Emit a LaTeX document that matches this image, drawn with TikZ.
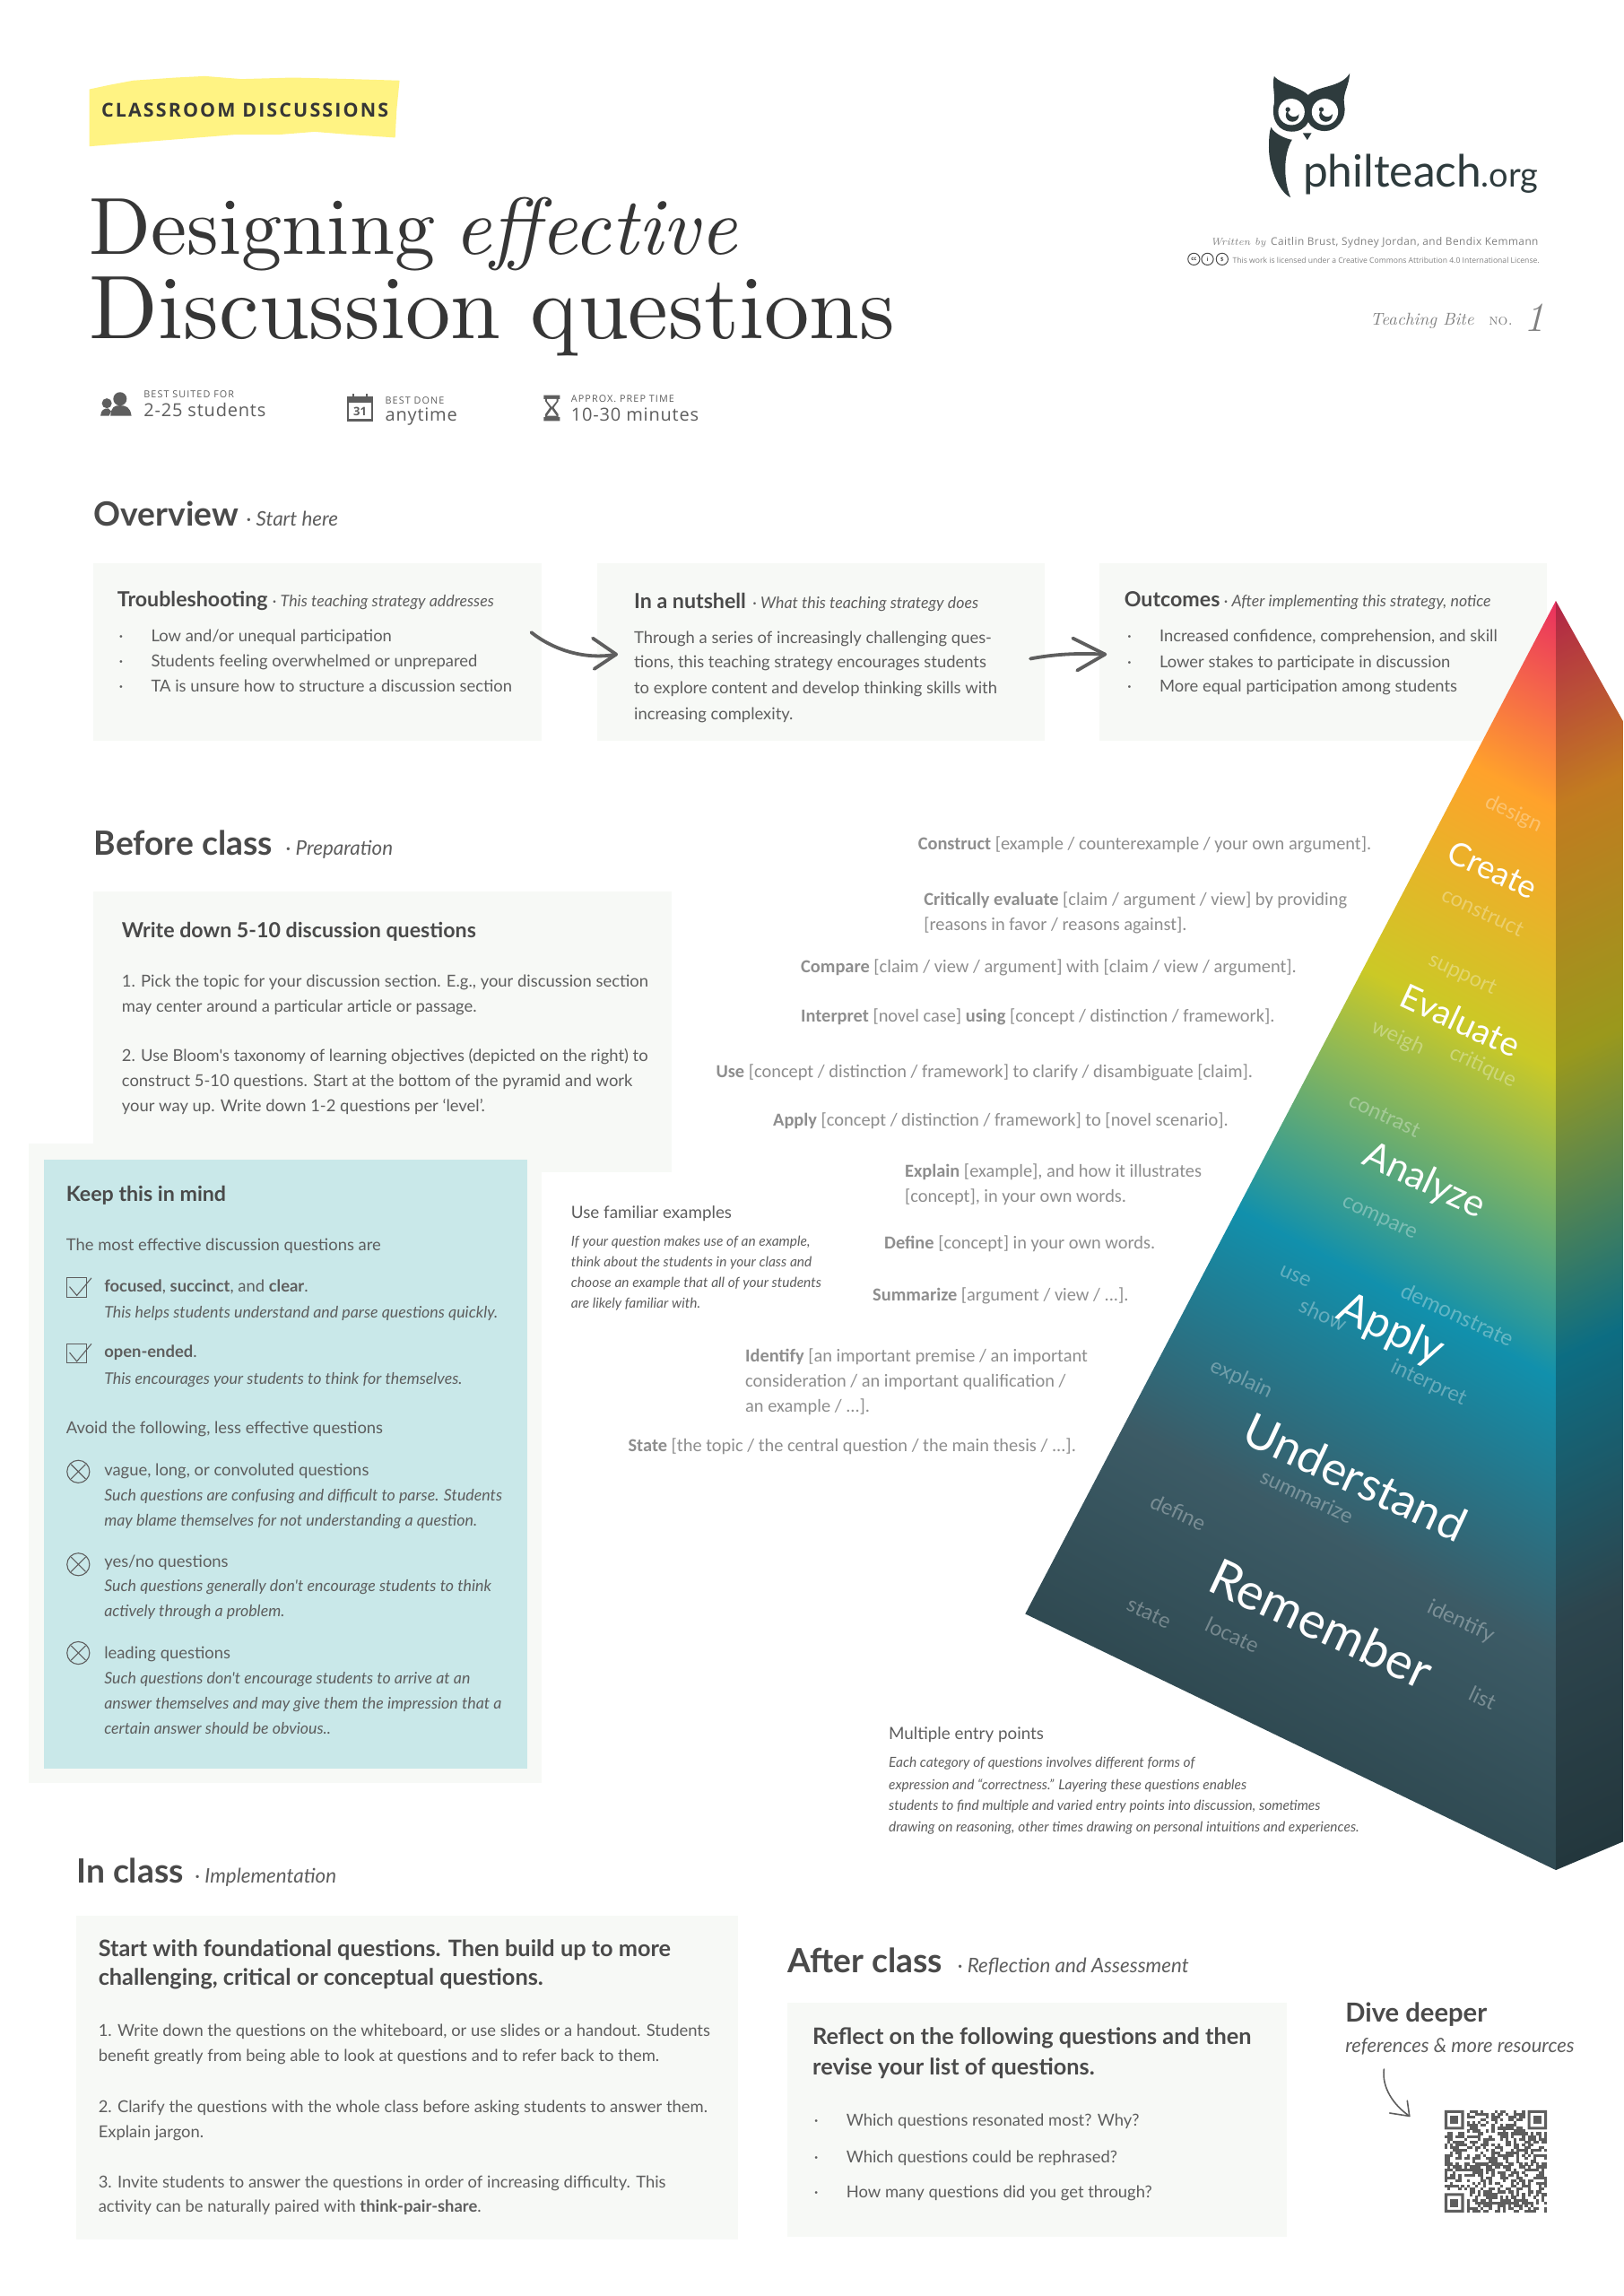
\documentclass[tikz,border=0pt]{standalone}
\usepackage{fontspec}
\usepackage{graphicx}
\newfontfamily\lat{Lato}
\newfontfamily\car{Carlito}
\newfontfamily\ops{Open Sans}
\newfontfamily\opc[LetterSpace=10]{Open Sans}
\newfontfamily\opl[LetterSpace=4]{Open Sans}
\definecolor{tx}{HTML}{5E5E5E}
\definecolor{hd}{HTML}{4A4A4A}
\definecolor{ti}{HTML}{363636}
\definecolor{pg}{HTML}{8E8E8E}
\definecolor{boxc}{HTML}{F7F9F6}
\definecolor{teal}{HTML}{C9E8E9}
\definecolor{tag}{HTML}{FFF383}
\definecolor{owl}{HTML}{2E3B3D}
\newcommand{\sz}[1]{\fontsize{#1}{#1}\selectfont}
\newcounter{tn}
\newcommand{\T}[4][]{\stepcounter{tn}\node[txt,#1] (t\arabic{tn}) at (#2,#3+4.4) {#4};}
\newcommand{\dw}[2]{\resizebox{#1pt}{!}{#2}}
\newcommand{\PL}[5][.33]{\stepcounter{tn}\node[pyl,text opacity=#1,font=\lat\sz{#4}] (t\arabic{tn}) at (#2,#3) {#5};}
\pgfdeclareverticalshading{pyr}{2000bp}{rgb(0bp)=(.18,.28,.31);rgb(131bp)=(.235,.357,.40);rgb(266bp)=(.067,.565,.675);rgb(368bp)=(.553,.722,.341);rgb(417bp)=(.796,.788,.149);rgb(545bp)=(1,.635,.169);rgb(598bp)=(.96,.40,.29);rgb(647bp)=(.914,.188,.373);rgb(697bp)=(.914,.188,.373)}
\tikzset{
 txt/.style={anchor=base west,inner sep=0pt,text=tx,font=\lat\sz{9.2}},
 it/.style={font=\lat\itshape\sz{8.9}},
 big/.style={text=hd,font=\lat\bfseries\sz{18.6}},
 sub/.style={font=\lat\itshape\sz{11.2}},
 bh/.style={text=hd,font=\lat\bfseries\sz{11.6}},
 bh2/.style={text=hd,font=\lat\bfseries\sz{12.65}},
 ish/.style={font=\lat\itshape\sz{8.9}},
 pr/.style={text=pg,font=\car\sz{10.2}},
 sm/.style={font=\lat\itshape\sz{7.75}},
 sh/.style={font=\lat\sz{9.4}},
 cp/.style={font=\opc\sz{5.4}},
 st/.style={font=\opl\sz{10}},
 panel/.style={fill=boxc,draw=none},
 pyl/.style={inner sep=0pt,rotate=-25,text=white},
 hand/.style={draw=tx,line width=1.9pt,line cap=round,line join=round},
 ico/.style={draw=tx,line width=.55pt,fill=none},
 qr/.style={fill=tx,draw=none}
}
\begin{document}
\begin{tikzpicture}[x=.816pt,y=-.816pt]
\useasboundingbox (0,0) rectangle (1109.1,1568.5);
\fill[white] (0,0) rectangle (1109.1,1568.5);
% tag
\fill[tag] (61,61)--(75,58)--(91,55)--(120,53)--(140,52)--(165,54)--(200,53)--(240,54)--(273,55)--(271,75)--(270,94)--(240,92)--(215,90)--(190,92)--(160,92)--(135,94)--(110,96)--(85,98)--(61,100)--cycle;
\T[font=\opc\bfseries\sz{10.7},text=ti]{69}{75.7}{CLASSROOM DISCUSSIONS}
% title
\T[text=ti,font=\rmfamily]{61}{169}{\dw{192.6}{Designing}}
\T[text=ti,font=\rmfamily]{310}{169}{\dw{157.5}{\itshape effective}}
\T[text=ti,font=\rmfamily]{61}{227}{\dw{449}{Discussion questions}}
% stats
\fill[tx] (82,272.5) circle (4.6);
\fill[tx] (75.5,284) .. controls (76,278) and (78,277) .. (82,277) .. controls (86,277) and (89,278) .. (89.8,284) -- cycle;
\fill[tx] (73,275.5) circle (3.4);
\fill[tx] (68.7,284) .. controls (69,280) and (71,279) .. (74,279) -- (76,281) -- (74.5,284) -- cycle;
\T[cp]{98}{267.5}{BEST SUITED FOR}
\T[st]{98}{280}{2-25 students}
\draw[tx,line width=1.1pt] (237.5,271.5) rectangle (254.5,287);
\fill[tx] (237.5,271.5) rectangle (254.5,275);
\draw[tx,line width=.7pt] (241.5,269) -- (241.5,273) (250.5,269) -- (250.5,273);
\node[inner sep=0pt,text=tx,font=\ops\bfseries\sz{6.5}] (cal) at (246,281.3) {31};
\T[cp]{263}{271.5}{BEST DONE}
\T[st]{263}{283}{anytime}
\fill[tx] (371.5,270)--(382.5,270)--(382.5,272.5)--(381.5,272.5)--(381.5,274)--(378.3,278.5)--(381.5,283)--(381.5,285)--(382.5,285)--(382.5,287.5)--(371.5,287.5)--(371.5,285)--(372.5,285)--(372.5,283)--(375.7,278.5)--(372.5,274)--(372.5,272.5)--(371.5,272.5)--cycle;
\fill[white] (373.8,272.5)--(380.2,272.5)--(380.2,274)--(377,278)--(373.8,274)--cycle;
\fill[white] (377,279.5)--(380.2,284)--(373.8,284)--cycle;
\T[cp]{390}{270.5}{APPROX. PREP TIME}
\T[st]{390}{283}{10-30 minutes}
% owl logo
\begin{scope}[shift={(845.6,36.8)},x=.1667pt,y=-.1667pt]
\fill[owl] (122,75) .. controls (150,105) and (200,105) .. (236,138) .. controls (265,105) and (345,115) .. (375,65) .. controls (372,110) and (352,130) .. (356,165) .. controls (368,220) and (330,258) .. (292,258) .. controls (265,258) and (245,245) .. (236,228) .. controls (225,250) and (205,260) .. (180,260) .. controls (140,260) and (110,225) .. (122,165) .. controls (125,130) and (115,105) .. (122,75) -- cycle;
\fill[white] (180,194) circle (44);
\fill[white] (292,194) circle (44);
\fill[owl] (183,205) circle (22);
\fill[white] (188,190) circle (20);
\fill[owl] (168,186) circle (8);
\fill[owl] (295,205) circle (22);
\fill[white] (300,190) circle (20);
\fill[owl] (280,186) circle (8);
\fill[owl] (218,265) -- (247,265) -- (233,288) -- cycle;
\fill[owl] (112,245) .. controls (120,265) and (160,285) .. (182,287) .. controls (150,340) and (155,430) .. (177,480) .. controls (135,460) and (100,370) .. (105,300) .. controls (105,280) and (106,260) .. (112,245) -- cycle;
\end{scope}
\T[text=owl,font=\lat\sz{24.8}]{890}{123.2}{philteach{\lat\fontsize{19}{19}\selectfont .org}}
\T[font=\rmfamily\itshape\sz{5.6},text=gray]{827}{163.2}{Written by}
\T[font=\opl\sz{5.9},text=gray]{868}{163.2}{Caitlin Brust, Sydney Jordan, and Bendix Kemmann}
\foreach \cx/\cg/\cn in {815.7/cc/ca,825/i/cb,835/\$/cc}{
 \node[circle,draw=hd,line width=.5pt,minimum size=6.6pt,inner sep=0pt,text=hd,font=\ops\bfseries\sz{3}] (\cn) at (\cx,177) {\cg};
}
\T[font=\ops\sz{4.3},text=gray]{842}{175.2}{This work is licensed under a Creative Commons Attribution 4.0 International License.}
\T[font=\rmfamily\itshape\sz{9.6},text=gray]{936}{218}{Teaching Bite}
\T[font=\rmfamily\sz{8.5},text=gray]{1017}{218}{\textsc{no.}}
\T[font=\rmfamily\itshape\sz{23},text=gray]{1041}{222.2}{1}
% overview
\T[big]{64}{355}{Overview}
\T[sub]{168}{355}{· Start here}
\path[panel] (64,385) rectangle (370,506);
\path[panel] (408,385) rectangle (714,506);
\path[panel] (751,385) rectangle (1057,506);
\T[bh]{80}{410}{Troubleshooting}
\T[ish]{186}{410}{· This teaching strategy addresses}
\foreach \yy/\ttx in {434/{Low and/or unequal participation},451/{Students feeling overwhelmed or unprepared},468/{TA is unsure how to structure a discussion section}}{
 \T{81}{\yy}{·}
 \T{103}{\yy}{\ttx}
}
\T[bh]{433}{411}{In a nutshell}
\T[ish]{514}{411}{· What this teaching strategy does}
\T{433}{435}{Through a series of increasingly challenging ques-}
\T{433}{452}{tions, this teaching strategy encourages students}
\T{433}{469.5}{to explore content and develop thinking skills with}
\T{433}{487}{increasing complexity.}
\T[bh]{768}{410}{Outcomes}
\T[ish]{836}{410}{· After implementing this strategy, notice}
\foreach \yy/\ttx in {434/{Increased confidence, comprehension, and skill},451.5/{Lower stakes to participate in discussion},468/{More equal participation among students}}{
 \T{770}{\yy}{·}
 \T{792}{\yy}{\ttx}
}
\coordinate (a1s) at (363,432);\coordinate (a1e) at (421,447);\coordinate (a1u) at (405,436);\coordinate (a1d) at (406,457);
\draw[hand] (a1s) .. controls (378,444) and (400,451) .. (a1e);
\draw[hand] (a1u) -- (a1e) -- (a1d);
\coordinate (a2s) at (704,450);\coordinate (a2e) at (755,447);\coordinate (a2u) at (733,436);\coordinate (a2d) at (736,458);
\draw[hand] (a2s) .. controls (720,447) and (735,446) .. (a2e);
\draw[hand] (a2u) -- (a2e) -- (a2d);
% pyramid
\begin{scope}
\clip (1063,410.5) -- (700.5,1102.5) -- (1063,1277.5) -- cycle;
\node[inner sep=0pt,rotate=-28,anchor=north] (pyrf) at (1091.7,356.4) {\pgfuseshading{pyr}};
\end{scope}
\begin{scope}
\clip (1063,410.5) -- (1109.1,493) -- (1109.1,1258) -- (1063,1277.5) -- cycle;
\node[inner sep=0pt,rotate=25,anchor=north] (pyrr) at (1037,355) {\pgfuseshading{pyr}};
\fill[black,opacity=.24] (1063,400) rectangle (1110,1280);
\end{scope}
\PL{1034}{556}{11.8}{design}
\PL[1]{1020}{594}{18}{Create}
\PL{1013}{623}{11.8}{construct}
\PL{999}{666}{11.8}{support}
\PL[1]{998}{697}{19}{Evaluate}
\PL{955}{709}{11.8}{weigh}
\PL{1013}{729}{11.8}{critique}
\PL{946}{762}{11.8}{contrast}
\PL[1]{973}{807}{21}{Analyze}
\PL{942}{833}{11.8}{compare}
\PL{885}{872}{11.8}{use}
\PL{996}{898}{12.2}{demonstrate}
\PL[1]{950}{909}{24.5}{Apply}
\PL{904}{898}{11.8}{show}
\PL{976}{945}{11.8}{interpret}
\PL{848}{942}{11.8}{explain}
\PL[1]{926}{1009}{26}{Understand}
\PL{893}{1022}{11.8}{summarize}
\PL{805}{1033}{11.8}{define}
\PL[1]{903}{1109}{28}{Remember}
\PL{785}{1102}{11.8}{state}
\PL{842}{1117}{11.8}{locate}
\PL{998}{1108}{11.8}{identify}
\PL{1013}{1160}{11.8}{list}
% before
\T[big]{64}{580}{Before class}
\T[sub]{195}{580}{· Preparation}
\path[panel] (64,609) rectangle (459,801);
\T[bh]{83}{636}{Write down 5-10 discussion questions}
\T{83}{670}{1. Pick the topic for your discussion section. E.g., your discussion section}
\T{83}{687}{may center around a particular article or passage.}
\T{83}{721}{2. Use Bloom's taxonomy of learning objectives (depicted on the right) to}
\T{83}{738}{construct 5-10 questions. Start at the bottom of the pyramid and work}
\T{83}{755}{your way up. Write down 1-2 questions per ‘level’.}
% keep box
\path[panel] (19.5,781) rectangle (370,1218);
\fill[teal] (30,792) rectangle (360,1208);
\T[bh]{45}{816}{Keep this in mind}
\T{45}{850}{The most effective discussion questions are}
\foreach \yy in {873,918}{
 \draw[ico] (45.8,\yy) rectangle (59.3,\yy+13);
 \draw[ico] (47.5,\yy+6) -- (52.5,\yy+12) -- (62.5,\yy);
}
\T{71}{878}{\textbf{focused}, \textbf{succinct}, and \textbf{clear}.}
\T[it]{71}{896}{This helps students understand and parse questions quickly.}
\T{71}{923}{\textbf{open-ended}.}
\T[it]{71}{941}{This encourages your students to think for themselves.}
\T{45}{975}{Avoid the following, less effective questions}
\foreach \yy in {1005.3,1068.7,1129.2}{
 \draw[ico] (53.5,\yy) circle (7.7);
 \draw[ico] (48.5,\yy-5) -- (58.5,\yy+5) (58.5,\yy-5) -- (48.5,\yy+5);
}
\T{71}{1004}{vague, long, or convoluted questions}
\T[it]{71}{1021}{Such questions are confusing and difficult to parse. Students}
\T[it]{71}{1038}{may blame themselves for not understanding a question.}
\T{71}{1066}{yes/no questions}
\T[it]{71}{1083}{Such questions generally don't encourage students to think}
\T[it]{71}{1100}{actively through a problem.}
\T{71}{1129}{leading questions}
\T[it]{71}{1146}{Such questions don't encourage students to arrive at an}
\T[it]{71}{1163}{answer themselves and may give them the impression that a}
\T[it]{71}{1180}{certain answer should be obvious..}
% prompts
\T[pr]{627}{576}{\textbf{Construct} [example / counterexample / your own argument].}
\T[pr]{631}{614}{\textbf{Critically evaluate} [claim / argument / view] by providing}
\T[pr]{631}{631}{[reasons in favor / reasons against].}
\T[pr]{547}{660}{\textbf{Compare} [claim / view / argument] with [claim / view / argument].}
\T[pr]{547}{694}{\textbf{Interpret} [novel case] \textbf{using} [concept / distinction / framework].}
\T[pr]{489}{732}{\textbf{Use} [concept / distinction / framework] to clarify / disambiguate [claim].}
\T[pr]{528}{765}{\textbf{Apply} [concept / distinction / framework] to [novel scenario].}
\T[pr]{618}{800}{\textbf{Explain} [example], and how it illustrates}
\T[pr]{618}{817}{[concept], in your own words.}
\T[pr]{604}{849}{\textbf{Define} [concept] in your own words.}
\T[pr]{596}{884}{\textbf{Summarize} [argument / view / ...].}
\T[pr]{509}{926}{\textbf{Identify} [an important premise / an important}
\T[pr]{509}{943}{consideration / an important qualification /}
\T[pr]{509}{960}{an example / ...].}
\T[pr]{429}{987}{\textbf{State} [the topic / the central question / the main thesis / ...].}
\T[sh]{390}{828}{Use familiar examples}
\T[sm]{390}{847}{If your question makes use of an example,}
\T[sm]{390}{861}{think about the students in your class and}
\T[sm]{390}{875}{choose an example that all of your students}
\T[sm]{390}{889.5}{are likely familiar with.}
\T[sh]{607}{1184}{Multiple entry points}
\T[sm]{607}{1203}{Each category of questions involves different forms of}
\T[sm]{607}{1218}{expression and “correctness.” Layering these questions enables}
\T[sm]{607}{1232.5}{students to find multiple and varied entry points into discussion, sometimes}
\T[sm]{607}{1247}{drawing on reasoning, other times drawing on personal intuitions and experiences.}
% in class
\T[big]{52}{1282}{In class}
\T[sub]{133}{1282}{· Implementation}
\path[panel] (52,1309) rectangle (504,1530);
\T[bh2]{67}{1332}{Start with foundational questions. Then build up to more}
\T[bh2]{67}{1352}{challenging, critical or conceptual questions.}
\T{67}{1387}{1. Write down the questions on the whiteboard, or use slides or a handout. Students}
\T{67}{1404}{benefit greatly from being able to look at questions and to refer back to them.}
\T{67}{1439}{2. Clarify the questions with the whole class before asking students to answer them.}
\T{67}{1456}{Explain jargon.}
\T{67}{1490}{3. Invite students to answer the questions in order of increasing difficulty. This}
\T{67}{1507}{activity can be naturally paired with \textbf{think-pair-share}.}
% after class
\T[big]{538}{1343}{After class}
\T[sub]{654}{1343}{· Reflection and Assessment}
\path[panel] (538,1368) rectangle (879,1528);
\T[bh2]{555}{1392}{Reflect on the following questions and then}
\T[bh2]{555}{1413}{revise your list of questions.}
\foreach \yy/\ttx in {1448/{Which questions resonated most? Why?},1473/{Which questions could be rephrased?},1497/{How many questions did you get through?}}{
 \T{556}{\yy}{·}
 \T{578}{\yy}{\ttx}
}
\T[bh,font=\lat\bfseries\sz{14.6}]{919}{1377}{Dive deeper}
\T[font=\lat\itshape\sz{11}]{919}{1398}{references \& more resources}
\coordinate (a3s) at (945.6,1413.5);\coordinate (a3e) at (963,1445.6);\coordinate (a3u) at (961.5,1435);\coordinate (a3d) at (949.5,1443.5);
\draw[draw=tx,line width=.8pt,line cap=round] (a3s) .. controls (944,1426) and (952,1438) .. (a3e);
\draw[draw=tx,line width=.8pt,line cap=round,line join=round] (a3u) -- (a3e) -- (a3d);
% QR
\begin{scope}[shift={(987,1441.5)},x=1.5435pt,y=-1.5435pt]
\pgfmathsetseed{12}
\foreach \qi in {0,...,36}{\foreach \qj in {0,...,36}{
 \pgfmathsetmacro\qv{rnd}
 \pgfmathtruncatemacro\qm{((\qi<8 && \qj<8) || (\qi>28 && \qj<8) || (\qi<8 && \qj>28)) ? 1 : 0}
 \ifnum\qm=0\relax\ifdim\qv pt>0.5pt\relax
  \fill[qr] (\qi,\qj) rectangle (\qi+1.05,\qj+1.05);
 \fi\fi
}}
\foreach \fx/\fy in {0/0,30/0,0/30}{
 \fill[qr,even odd rule] (\fx,\fy) rectangle (\fx+7,\fy+7) (\fx+1,\fy+1) rectangle (\fx+6,\fy+6);
 \fill[qr] (\fx+2,\fy+2) rectangle (\fx+5,\fy+5);
}
\end{scope}
\end{tikzpicture}
\end{document}
